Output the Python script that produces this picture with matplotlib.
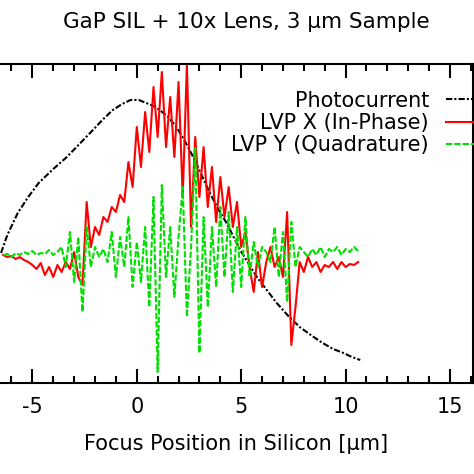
import matplotlib.pyplot as plt
import numpy as np

# photocurrent (arbitrary units)
pc_x = [-6.5, -6.2, -5.7, -5.2, -4.7, -4.0, -3.35, -2.7, -2.1, -1.6, -1.15, -0.7,
        -0.3, 0.1, 0.45, 0.8, 1.1, 1.5, 1.9, 2.3, 2.7, 3.1, 3.5, 3.9, 4.3, 4.95,
        5.75, 6.7, 7.3, 7.8, 8.4, 8.9, 9.4, 9.9, 10.3, 10.7]
pc_y = [0.04, 0.22, 0.44, 0.60, 0.74, 0.88, 1.00, 1.14, 1.27, 1.38, 1.47, 1.53,
        1.57, 1.57, 1.54, 1.51, 1.47, 1.40, 1.30, 1.16, 1.00, 0.82, 0.64, 0.48,
        0.34, 0.07, -0.2, -0.46, -0.60, -0.70, -0.79, -0.86, -0.92, -0.96, -1.00, -1.03]

# LVP samples every 0.2 um from -6.4 to 10.6
lvp_x = np.round(np.arange(-6.4, 10.61, 0.2), 2)
lvp_xv = [0.02, 0.0, 0.01, -0.02, 0.0, -0.03, -0.05, -0.08, -0.12, -0.06,
          -0.18, -0.1, -0.2, -0.08, -0.15, -0.05, -0.12, 0.05, -0.2, -0.28,
          0.55, 0.1, 0.3, 0.22, 0.4, 0.35, 0.5, 0.45, 0.62, 0.55,
          0.95, 0.7, 1.3, 0.9, 1.45, 1.05, 1.7, 1.2, 1.85, 1.1,
          1.6, 1.0, 1.75, 0.6, 1.93, 0.3, 1.2, 0.6, 1.1, 0.5,
          0.9, 0.35, 0.8, 0.4, 0.7, 0.3, 0.55, 0.1, 0.25, -0.1,
          -0.35, 0.05, -0.3, -0.05, 0.1, -0.1, 0.0, -0.2, 0.45, -0.88,
          -0.5, -0.05, -0.15, 0.0, -0.1, -0.05, -0.15, -0.08, -0.1, -0.05,
          -0.12, -0.05, -0.1, -0.07, -0.08, -0.05]
lvp_yv = [0.02, 0.03, 0.0, 0.04, 0.02, 0.05, 0.03, 0.06, 0.02, 0.04,
          0.03, 0.07, 0.02, 0.05, 0.1, -0.1, 0.25, -0.25, 0.2, -0.55,
          0.3, -0.1, 0.1, 0.0, 0.08, -0.05, 0.25, -0.2, 0.2, -0.1,
          0.4, -0.3, 0.15, -0.25, 0.3, -0.5, 0.6, -1.15, 0.72, -0.2,
          0.3, -0.4, 0.2, 0.7, -0.6, 0.1, 1.09, -0.96, 0.4, -0.5,
          0.3, -0.3, 0.5, -0.2, 0.45, -0.35, 0.3, -0.3, 0.4, -0.2,
          0.15, -0.1, 0.1, 0.05, -0.05, 0.3, -0.2, 0.25, -0.45, 0.35,
          -0.1, 0.1, 0.05, 0.0, 0.08, 0.02, 0.1, 0.0, 0.08, 0.05,
          0.1, 0.02, 0.08, 0.05, 0.1, 0.06]

plt.rcParams['axes.unicode_minus'] = False

fig = plt.figure(figsize=(4.74, 4.74), dpi=100)
ax = fig.add_axes([0.0, 91 / 474, 473 / 474, 319 / 474])

ax.plot(pc_x, pc_y, color='black', ls=(0, (3, 1, 1, 1)), lw=1.5, label='Photocurrent')
ax.plot(lvp_x, lvp_xv, color='#ff0000', lw=1.5, label='LVP X (In-Phase)')
ax.plot(lvp_x, lvp_yv, color='#00e000', ls=(0, (3, 1)), lw=1.5, label='LVP Y (Quadrature)')

ax.set_xlim(-6.55, 16.1)
ax.set_ylim(-1.26, 1.93)
ax.set_xticks([-5, 0, 5, 10, 15])
ax.set_xticks(np.arange(-6, 17, 1), minor=True)
ax.tick_params(axis='x', which='both', direction='in', top=True, labelsize=15, pad=10)
ax.tick_params(axis='x', which='major', length=10, width=1.5)
ax.tick_params(axis='x', which='minor', length=5, width=1.5)
ax.set_yticks([])
ax.spines['left'].set_visible(False)
for s in ['top', 'bottom', 'right']:
    ax.spines[s].set_linewidth(1.5)
ax.set_xlabel('Focus Position in Silicon [µm]', fontsize=15, labelpad=12)

ax.legend(loc='upper right', bbox_to_anchor=(1.07, 0.975), markerfirst=False,
          frameon=False, fontsize=15, handlelength=2, labelspacing=0.1)
fig.text(0.52, 0.954, 'GaP SIL + 10x Lens, 3 µm Sample', ha='center', va='center', fontsize=15.5)

fig.savefig('out.png', dpi=100)
